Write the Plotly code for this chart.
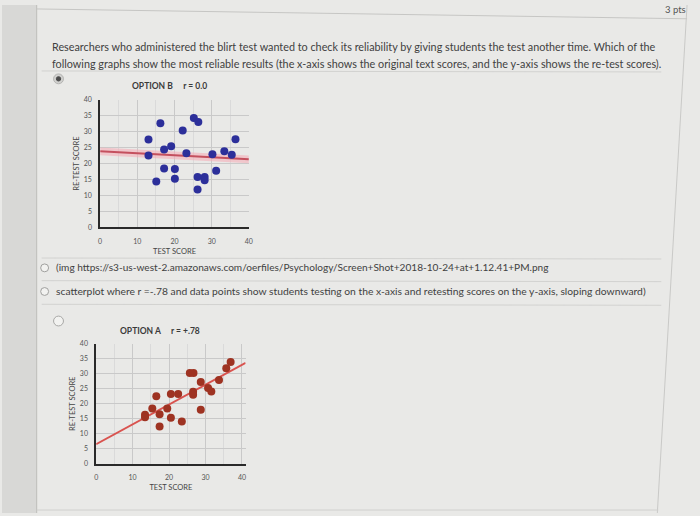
import plotly.graph_objects as go

W, H = 700, 516

# ---------------- data ----------------
x_ticks = [0, 10, 20, 30, 40]
y_ticks = [0, 5, 10, 15, 20, 25, 30, 35, 40]

# Option B (r = 0.0)
b_test = [13.0, 13.0, 16.2, 15.1, 17.2, 17.2, 19.1, 20.1, 20.1, 22.2, 23.2,
          25.2, 26.4, 26.2, 26.2, 28.1, 28.1, 30.2, 31.2, 33.4, 35.4, 36.4]
b_retest = [27.5, 22.5, 32.6, 14.4, 24.4, 18.4, 25.4, 18.3, 15.2, 30.3, 23.2,
            34.2, 33.0, 15.8, 11.9, 15.8, 14.8, 22.9, 17.7, 23.8, 22.7, 27.6]
b_fit_x = [0, 40]
b_fit_y = [23.8, 21.3]
b_band_hi = [25.0, 22.5]
b_band_lo = [22.6, 20.1]

# Option A (r = +.78)
a_test = [13.4, 13.4, 15.4, 16.5, 17.4, 17.4, 19.5, 20.5, 20.5, 22.5, 23.5,
          25.7, 26.7, 26.6, 26.6, 28.7, 28.7, 30.7, 31.6, 33.7, 35.7, 36.9]
a_retest = [16.3, 15.5, 18.4, 22.5, 16.5, 12.4, 18.4, 23.2, 15.3, 23.2, 14.1,
            30.2, 30.2, 24.0, 23.0, 27.2, 18.0, 25.2, 24.1, 27.9, 31.8, 33.9]
a_fit_x = [0, 41]
a_fit_y = [6.5, 33.6]

question_1 = ("Researchers who administered the blirt test wanted to check its reliability by giving "
              "students the test another time. Which of the")
question_2 = ("following graphs show the most reliable results (the x-axis shows the original text "
              "scores, and the y-axis shows the re-test scores).")
option_img = ("(img https://s3-us-west-2.amazonaws.com/oerfiles/Psychology/Screen+Shot+2018-10-24+at+1.12.41+PM.png")
option_txt = ("scatterplot where r =-.78 and data points show students testing on the x-axis and "
              "retesting scores on the y-axis, sloping downward)")

# ---------------- helpers ----------------
def px(x):
    return x / W

def py(y):
    return 1 - y / H

FONT = "Lato, 'Open Sans', sans-serif"

fig = go.Figure()

# Option B traces
fig.add_trace(go.Scatter(x=b_fit_x, y=b_band_hi, mode="lines", line=dict(width=0),
                         hoverinfo="skip", showlegend=False, xaxis="x", yaxis="y"))
fig.add_trace(go.Scatter(x=b_fit_x, y=b_band_lo, mode="lines", line=dict(width=0),
                         fill="tonexty", fillcolor="rgba(245,170,180,0.55)",
                         hoverinfo="skip", showlegend=False, xaxis="x", yaxis="y"))
fig.add_trace(go.Scatter(x=b_fit_x, y=b_fit_y, mode="lines",
                         line=dict(color="#c4505e", width=2),
                         showlegend=False, xaxis="x", yaxis="y"))
fig.add_trace(go.Scatter(x=b_test, y=b_retest, mode="markers",
                         marker=dict(color="#2c2f9a", size=8),
                         showlegend=False, xaxis="x", yaxis="y", cliponaxis=False))

# Option A traces
fig.add_trace(go.Scatter(x=a_fit_x, y=a_fit_y, mode="lines",
                         line=dict(color="#d9534f", width=1.8),
                         showlegend=False, xaxis="x2", yaxis="y2"))
fig.add_trace(go.Scatter(x=a_test, y=a_retest, mode="markers",
                         marker=dict(color="#9e3322", size=8),
                         showlegend=False, xaxis="x2", yaxis="y2", cliponaxis=False))

def xax(domain, anchor, rng):
    return dict(domain=domain, anchor=anchor, range=rng, tickvals=x_ticks,
                showline=True, linecolor="#2a2a2a", linewidth=1.6,
                showgrid=True, gridcolor="#c9c9c9", gridwidth=0.8, zeroline=False,
                minor=dict(dtick=5, showgrid=True, gridcolor="#dadada", gridwidth=0.6),
                tickfont=dict(size=7, color="#555", family=FONT), ticks="",
                ticklabelstandoff=6,
                title=dict(text="TEST SCORE", font=dict(size=7.5, color="#444", family=FONT),
                           standoff=5),
                fixedrange=True)

def yax(domain, anchor):
    return dict(domain=domain, anchor=anchor, range=[0, 40], tickvals=y_ticks,
                showline=True, linecolor="#2a2a2a", linewidth=1.6,
                showgrid=True, gridcolor="#c9c9c9", gridwidth=0.8, zeroline=False,
                tickfont=dict(size=7, color="#555", family=FONT), ticks="",
                ticklabelstandoff=5,
                title=dict(text="RE-TEST SCORE", font=dict(size=7.5, color="#444", family=FONT),
                           standoff=3),
                fixedrange=True)

fig.update_layout(
    width=W, height=H, autosize=False,
    margin=dict(l=0, r=0, t=0, b=0, pad=0),
    paper_bgcolor="#e9e9e7", plot_bgcolor="rgba(0,0,0,0)",
    font=dict(family=FONT),
    xaxis=xax([px(99), px(249)], "y", [0, 40]),
    yaxis=yax([py(226), py(96)], "x"),
    xaxis2=xax([px(95), px(245.7)], "y2", [0, 41]),
    yaxis2=yax([py(466), py(344)], "x2"),
)

shapes = []
# left dark strip and borders
shapes.append(dict(type="rect", xref="paper", yref="paper", x0=0, x1=px(35), y0=0, y1=1,
                   fillcolor="#d8d8d6", line=dict(width=0), layer="below"))
shapes.append(dict(type="line", xref="paper", yref="paper", x0=px(35), x1=px(35), y0=0, y1=1,
                   line=dict(color="#bdbdbb", width=1)))
shapes.append(dict(type="line", xref="paper", yref="paper", x0=px(691), x1=px(661), y0=1, y1=0,
                   line=dict(color="#c9c9c7", width=1)))
shapes.append(dict(type="line", xref="paper", yref="paper", x0=px(35), x1=px(691), y0=py(4), y1=py(14),
                   line=dict(color="#c6c6c4", width=1)))
# separators
for yy in [67, 257, 280, 304]:
    shapes.append(dict(type="line", xref="paper", yref="paper", x0=px(40), x1=px(665),
                       y0=py(yy), y1=py(yy + 1), line=dict(color="#d2d2d0", width=1)))
shapes.append(dict(type="line", xref="paper", yref="paper", x0=px(35), x1=px(662),
                   y0=py(513), y1=py(513), line=dict(color="#d0d0ce", width=1)))

def circle(cx, cy, r, fill, border):
    return dict(type="circle", xref="paper", yref="paper",
                x0=px(cx - r), x1=px(cx + r), y0=py(cy + r), y1=py(cy - r),
                fillcolor=fill, line=dict(color=border, width=1))

shapes.append(circle(57, 75, 5, "#d0d0ce", "#b5b5b3"))
shapes.append(circle(57, 75, 2.2, "#4a4a4a", "#4a4a4a"))
shapes.append(circle(57, 321, 5, "#f2f2f0", "#a8a8a6"))
shapes.append(circle(43, 267, 4, "#f2f2f0", "#a0a09e"))
shapes.append(circle(43, 291, 4, "#f2f2f0", "#a0a09e"))
fig.update_layout(shapes=shapes)

TXT = "#414141"
ann = []
def text(x, y, s, size, color=TXT, anchor="left", weight="normal"):
    ann.append(dict(x=px(x), y=py(y), xref="paper", yref="paper", text=s, showarrow=False,
                    xanchor=anchor, yanchor="middle",
                    font=dict(size=size, color=color, family=FONT, weight=weight)))

text(48, 42, question_1, 10.8)
text(48, 59, question_2, 10.8)
text(52, 266, option_img, 10.1)
text(52, 290, option_txt, 10.3)
text(667, 5, "3 pts", 9.5, color="#555")
text(169, 82, "OPTION B&nbsp;&nbsp;&nbsp;&nbsp;&nbsp;r = 0.0", 8.5, color="#3a3a3a", anchor="center", weight="bold")
text(159, 331, "OPTION A&nbsp;&nbsp;&nbsp;&nbsp;&nbsp;r = +.78", 8.5, color="#3a3a3a", anchor="center", weight="bold")
fig.update_layout(annotations=ann)

fig.write_html("out.html", config={"displayModeBar": False},
               post_script="document.body.style.margin='0';document.body.style.overflow='hidden';")
